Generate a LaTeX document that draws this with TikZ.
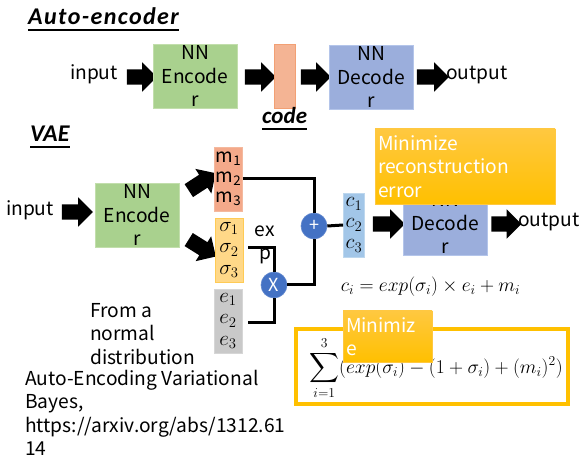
\RequirePackage{fix-cm}
\documentclass[tikz,border=0pt]{standalone}
\usepackage{exscale}
\usepackage[no-math]{fontspec}
\setmainfont{Noto Sans CJK TC}
\newfontfamily\titlefont{Carlito}
\newfontfamily\titlewide[LetterSpace=6]{Carlito}
\usetikzlibrary{shapes.arrows,calc}
\definecolor{encfill}{HTML}{A9D18E}
\definecolor{encline}{HTML}{C2DEAC}
\definecolor{codefill}{HTML}{F4B494}
\definecolor{codeline}{HTML}{F2A074}
\definecolor{decfill}{HTML}{9BAEDC}
\definecolor{decline}{HTML}{B4C5EA}
\definecolor{mfill}{HTML}{F4A98A}
\definecolor{mline}{HTML}{F4B99E}
\definecolor{sfill}{HTML}{FFD888}
\definecolor{sline}{HTML}{FFCB55}
\definecolor{efill}{HTML}{C9C9C9}
\definecolor{eline}{HTML}{D6D6D6}
\definecolor{cfill}{HTML}{A2C6E8}
\definecolor{cline}{HTML}{BDD7EE}
\definecolor{circfill}{HTML}{4472C4}
\definecolor{gold}{HTML}{FFC000}
\definecolor{goldtop}{HTML}{FFC840}
\begin{document}
\begin{tikzpicture}[x=1pt,y=-1pt,
  txt/.style={font=\fontsize{19.2}{23.5}\selectfont, inner sep=0pt},
  ttl/.style={font=\titlefont\bfseries\itshape\fontsize{24}{28}\selectfont, inner sep=0pt},
  box/.style={draw, line width=0.8pt, inner sep=0pt, align=center, font=\fontsize{19.2}{23.5}\selectfont},
  encbox/.style={box, fill=encfill, draw=encline, minimum width=84, minimum height=64},
  decbox/.style={box, fill=decfill, draw=decline, minimum width=84, minimum height=64},
  vecbox/.style={box, minimum width=28, minimum height=64},
  barrow/.style={single arrow, fill=black, draw=none, inner sep=0pt, minimum width=0pt, single arrow head extend=7pt, minimum height=31pt},
  conn/.style={line width=3pt, line cap=butt},
  circ/.style={circle, fill=circfill, draw=circfill!85!white, line width=0.6pt, minimum size=26, inner sep=0pt, text=white, font=\fontsize{18}{20}\selectfont},
  goldbox/.style={top color=goldtop, bottom color=gold, draw=goldtop, line width=0.6pt, text=white, align=left, inner sep=0pt, font=\fontsize{19.2}{23.5}\selectfont},
  mth/.style={inner sep=0pt, font=\fontsize{19.5}{22}\selectfont}]
\newcommand{\shaft}{\rule{0pt}{15pt}}
\useasboundingbox (0,0) rectangle (587,462);
\fill[white] (0,0) rectangle (587,462);
% ---------- Auto-encoder ----------
\node[ttl, font=\titlewide\bfseries\itshape\fontsize{24}{28}\selectfont, anchor=base west] (t1) at (28,25) {Auto-encoder};
\draw[line width=1.5pt] ($(t1.base west)+(0,5)$) -- ($(t1.base east)+(0,5)$);
\node[txt, anchor=mid east] (in1) at (118,77) {input};
\node[barrow, minimum height=30pt] (a1) at (138,77) {\shaft};
\node[encbox] (enc1) at (195,76) {NN\\Encode\\r};
\node[barrow] (a2) at (256.5,77) {\shaft};
\node[box, fill=codefill, draw=codeline, minimum width=21, minimum height=64] (code) at (284.5,76) {};
\node[ttl, font=\titlefont\bfseries\itshape\fontsize{23}{26}\selectfont, anchor=base west] (codet) at (262,124) {code};
\draw[line width=1.5pt] ($(codet.base west)+(0,5)$) -- ($(codet.base east)+(0,5)$);
\node[barrow, minimum height=30pt] (a3) at (312,77) {\shaft};
\node[decbox] (dec1) at (371,77) {NN\\Decode\\r};
\node[barrow, minimum height=32pt] (a4) at (429,77) {\shaft};
\node[txt, anchor=mid west] (out1) at (446,77) {output};
% ---------- VAE ----------
\node[ttl, anchor=base west] (t2) at (30,142) {VAE};
\draw[line width=1.5pt] ($(t2.base west)+(0,5)$) -- ($(t2.base east)+(0,5)$);
\node[txt, anchor=mid east] (in2) at (54,213) {input};
\node[barrow] (a5) at (73.5,212) {\shaft};
\node[encbox] (enc2) at (137,215) {NN\\Encode\\r};
\node[barrow, rotate=33, minimum height=32pt] (a6) at (199,184) {\shaft};
\node[barrow, rotate=-32, minimum height=32pt] (a7) at (199,246) {\shaft};
\node[vecbox, fill=mfill, draw=mline, font=\fontsize{19}{20}\selectfont] (mb) at (228.5,179) {m\textsubscript{1}\\m\textsubscript{2}\\m\textsubscript{3}};
\node[vecbox, fill=sfill, draw=sline, font=\fontsize{21}{21.5}\selectfont] (sb) at (229,250) {$\sigma_1$\\$\sigma_2$\\$\sigma_3$};
\node[vecbox, fill=efill, draw=eline, font=\fontsize{21}{21.5}\selectfont] (eb) at (228,321) {$e_1$\\$e_2$\\$e_3$};
\node[txt, align=center] (exp) at (265,245) {ex\\p};
\node[circ] (plus) at (314,226) {+};
\node[circ] (times) at (274,285) {X};
\node[vecbox, fill=cfill, draw=cline, minimum width=21, font=\fontsize{21}{21}\selectfont] (cb) at (354,225) {$c_1$\\$c_2$\\$c_3$};
\draw[conn] (mb.east) -| (plus.north);
\draw[conn] ($(sb.east)+(5,-2)$) -| (times.north);
\draw[conn] (plus.south) |- (times.east);
\draw[conn] (times.south) |- ($(eb.east)+(6,2)$);
\draw[conn] (plus.east) -- (cb.west);
\node[barrow, minimum height=32pt] (a8) at (385,224) {\shaft};
\node[decbox] (dec2) at (445,223) {NN\\Decode\\r};
\node[barrow, minimum height=30pt] (a9) at (502.5,224) {\shaft};
\node[txt, anchor=mid west] (out2) at (518,224) {output};
\node[goldbox, minimum width=180, minimum height=75, text width=174] (minrec) at (465,166.5) {Minimize\\reconstruction\\error};
\node[mth] (cform) at (430.5,287) {$c_i = exp(\sigma_i)\times e_i + m_i$};
\node[draw=gold, line width=4pt, minimum width=272, minimum height=75, inner sep=0pt] (frame) at (432,367) {};
\node[mth] (sform) at (436,368) {$\displaystyle\sum_{i=1}^{3}(exp(\sigma_i)-(1+\sigma_i)+(m_i)^2)$};
\node[goldbox, minimum width=89, minimum height=51, text width=83] (minkl) at (387.5,336.5) {Minimiz\\e};
\node[txt, align=left, anchor=north west] (norm) at (90,303) {From a\\normal\\distribution};
\node[txt, align=left, anchor=north west] (ref) at (25,370) {Auto-Encoding Variational\\Bayes,\\https://arxiv.org/abs/1312.61\\14};
\end{tikzpicture}
\end{document}
